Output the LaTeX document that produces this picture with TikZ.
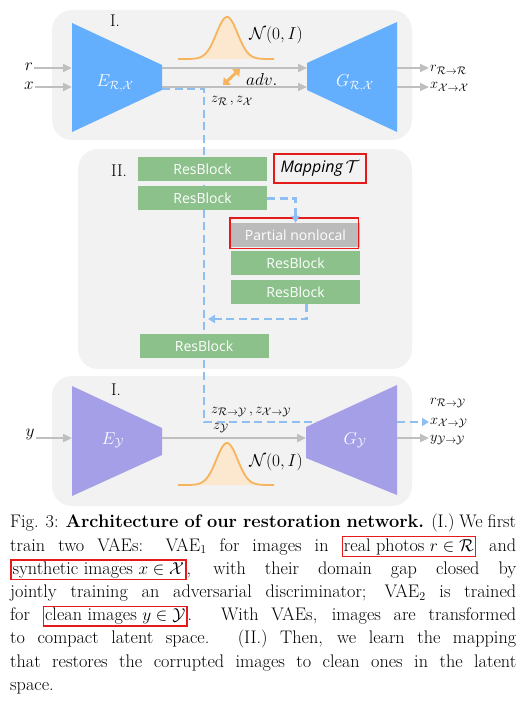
\documentclass[tikz,border=0pt]{standalone}
\usepackage{amsmath,amssymb}
\usepackage{fontspec}
\setsansfont{Open Sans}
\usepackage{xcolor}
\usepackage{tikz}
\usetikzlibrary{calc,arrows.meta,positioning}
\definecolor{panelbg}{HTML}{F2F2F2}
\definecolor{encblue}{HTML}{64AEFE}
\definecolor{encpurple}{HTML}{A49FE6}
\definecolor{resgreen}{HTML}{8CC18C}
\definecolor{nlgray}{HTML}{BBBBBB}
\definecolor{gaussline}{HTML}{F6B45E}
\definecolor{gaussfill}{HTML}{FCE7CF}
\definecolor{dashblue}{HTML}{8EBEF2}
\definecolor{flowgray}{HTML}{BFBFBF}
\definecolor{markred}{HTML}{E51A1A}
\newcommand{\redmark}[1]{{\setlength{\fboxsep}{1pt}\setlength{\fboxrule}{1.4pt}\textcolor{markred}{\fbox{\color{black}#1}}}}
\tikzset{
  panel/.style={fill=panelbg,rounded corners=20pt},
  fl/.style={-{Triangle[length=9pt,width=8pt]},flowgray,line width=2.3pt},
  lat/.style={-{Triangle[length=7pt,width=8pt]},dashblue,line width=2.6pt,dash pattern=on 8pt off 4.5pt},
  res/.style={fill=resgreen,text=white,font=\sffamily\fontsize{14}{14}\selectfont,minimum width=129pt,minimum height=24pt,inner sep=0pt},
  lbl/.style={font=\fontsize{16}{16}\selectfont,inner sep=1pt},
  zlbl/.style={font=\fontsize{15.5}{15.5}\selectfont,inner sep=0pt,anchor=west},
  inlbl/.style={font=\fontsize{16.5}{16.5}\selectfont,text=white},
  gauss/.style={gaussline,line width=1.8pt}
}
\begin{document}
\begin{tikzpicture}[x=1pt,y=-1pt]
\useasboundingbox (0,0) rectangle (524,701);
% panels
\fill[panel] (52,10) rectangle (412,140);
\fill[panel] (78,149) rectangle (412,369);
\fill[panel] (52,376) rectangle (412,506);
\node[lbl,font=\fontsize{17}{17}\selectfont] (p1a) at (115,21) {I.};
\node[lbl,font=\fontsize{17}{17}\selectfont] (p2) at (119,171) {II.};
\node[lbl,font=\fontsize{17}{17}\selectfont] (p1b) at (116,390) {I.};

% VAE_1
\fill[encblue] (72,23) -- (162,65) -- (162,90) -- (72,132) -- cycle;
\fill[encblue] (307,63) -- (397,22) -- (397,132) -- (307,90) -- cycle;
\node[inlbl] (erx) at (115,83) {$E_{\mathcal{R},\mathcal{X}}$};
\node[inlbl] (grx) at (355,83) {$G_{\mathcal{R},\mathcal{X}}$};
\coordinate (erin) at (72,68);   \coordinate (exin) at (72,87);
\coordinate (erout) at (162,68); \coordinate (exout) at (162,87);
\coordinate (ezout) at (162,89);
\coordinate (grin) at (307,68);  \coordinate (gxin) at (307,87);
\coordinate (grout) at (397,68); \coordinate (gxout) at (397,87);
\coordinate (rtip) at (429,68);  \coordinate (xtip) at (429,87);
\node[lbl] (rin) at (29,67) {$r$};
\node[lbl] (xin) at (29,86) {$x$};
\draw[fl] (rin.east |- erin) -- (erin);
\draw[fl] (xin.east |- exin) -- (exin);
\draw[fl] (erout) -- (grin);
\draw[fl] (exout) -- (gxin);
\draw[fl] (grout) -- (rtip);
\draw[fl] (gxout) -- (xtip);
\node[zlbl] (rrr) at (430,70) {$r_{\mathcal{R}\to\mathcal{R}}$};
\node[zlbl] (xxx) at (430,87) {$x_{\mathcal{X}\to\mathcal{X}}$};
\fill[gaussfill] (178,59) -- plot[domain=178:274,samples=80] (\x,{59-42*exp(-(((\x-227)/15)^2))}) -- cycle;
\draw[gauss] plot[domain=178:274,samples=80] (\x,{59-42*exp(-(((\x-227)/15)^2))});
\node[lbl] (n1) at (276,35) {$\mathcal{N}(0,I)$};
\coordinate (advlo) at (223,85); \coordinate (advhi) at (240,69);
\draw[gaussline,line width=3pt,{Triangle[length=6pt,width=10pt]}-{Triangle[length=6pt,width=10pt]}] (advlo) -- (advhi);
\node[zlbl,font=\fontsize{16}{16}\selectfont] (adv) at (246,79) {$adv.$};
\node[zlbl] (zrx) at (211,101) {$z_{\mathcal{R}}\,,z_{\mathcal{X}}$};

% VAE_2
\fill[encpurple] (72,386) -- (162,428) -- (162,455) -- (72,496) -- cycle;
\fill[encpurple] (306,427) -- (397,385) -- (397,495) -- (306,458) -- cycle;
\node[inlbl] (ey) at (113,440) {$E_{\mathcal{Y}}$};
\node[inlbl] (gy) at (355,440) {$G_{\mathcal{Y}}$};
\coordinate (eyin) at (72,438);  \coordinate (eyout) at (162,438);
\coordinate (gyin) at (306,438); \coordinate (gyout) at (397,438);
\coordinate (gzin) at (317,422); \coordinate (gzout) at (397,422);
\coordinate (ytip) at (429,438); \coordinate (ztip) at (429,422);
\node[lbl] (yin) at (30,434) {$y$};
\draw[fl] (yin.east |- eyin) -- (eyin);
\draw[fl] (eyout) -- (gyin);
\draw[fl] (gyout) -- (ytip);
\node[zlbl] (ryy) at (430,403) {$r_{\mathcal{R}\to\mathcal{Y}}$};
\node[zlbl] (xyy) at (430,423) {$x_{\mathcal{X}\to\mathcal{Y}}$};
\node[zlbl] (yyy) at (430,440) {$y_{\mathcal{Y}\to\mathcal{Y}}$};
\fill[gaussfill] (178,485) -- plot[domain=178:274,samples=80] (\x,{485-42*exp(-(((\x-227)/15)^2))}) -- cycle;
\draw[gauss] plot[domain=178:274,samples=80] (\x,{485-42*exp(-(((\x-227)/15)^2))});
\node[lbl] (n2) at (276,462) {$\mathcal{N}(0,I)$};
\node[zlbl] (zry) at (211,412) {$z_{\mathcal{R}\to\mathcal{Y}}\,,z_{\mathcal{X}\to\mathcal{Y}}$};
\node[zlbl] (zy) at (213,428) {$z_{\mathcal{Y}}$};

% latent path
\draw[lat,-] (ezout) -| (204,422) -- (gzin);
\draw[lat] (gzout) -- (ztip);

% mapping T
\node[res] (rb1) at (202.5,169) {ResBlock};
\node[res,below=5pt of rb1] (rb2) {ResBlock};
\node[res,fill=nlgray] (pn) at (295.5,235) {Partial nonlocal};
\node[res,below=4pt of pn] (rb3) {ResBlock};
\node[res,below=4pt of rb3] (rb4) {ResBlock};
\node[res] (rb5) at (204,346) {ResBlock};
\node[draw=markred,line width=1.4pt,minimum width=92pt,minimum height=29pt,inner sep=0pt,
  font=\sffamily\itshape\fontsize{16}{16}\selectfont] (map) at (320,168.5) {Mapping\,$\mathcal{T}$};
\draw[markred,line width=1.4pt] ($(pn.north west)+(-1,-5)$) rectangle ($(pn.south east)+(-2,1)$);
\coordinate (back) at (208,319);
\draw[lat] (rb2.east) -| (pn.north);
\draw[lat] ([xshift=11pt]rb4.south) |- (back);

% caption
\node[anchor=north west,inner sep=0pt,text width=506pt,align=justify,
  font=\fontsize{18.2}{23.2}\selectfont] (cap) at (10,514) {%
Fig. 3: \textbf{Architecture of our restoration network.} (I.) We first\linebreak
train two VAEs: VAE$_1$ for images in \redmark{real photos $r\in\mathcal{R}$} and\linebreak
\redmark{synthetic images $x\in\mathcal{X}$}, with their domain gap closed by\linebreak
jointly training an adversarial discriminator; VAE$_2$ is trained\linebreak
for \redmark{clean images $y\in\mathcal{Y}$}. With VAEs, images are transformed\linebreak
to compact latent space. (II.) Then, we learn the mapping\linebreak
that restores the corrupted images to clean ones in the latent\linebreak
space.};
\end{tikzpicture}
\end{document}
